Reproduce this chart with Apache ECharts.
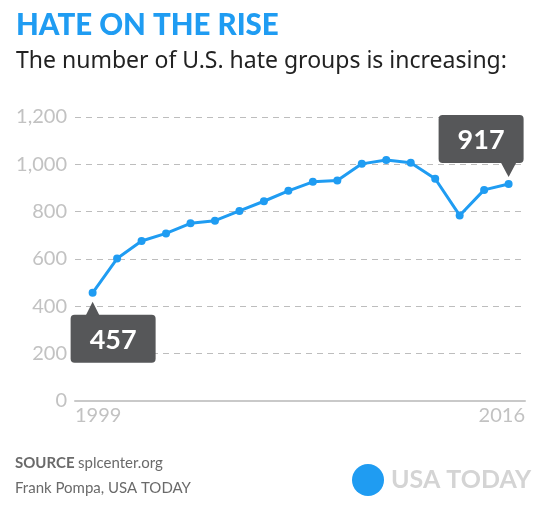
<!DOCTYPE html>
<html>
<head>
<meta charset="utf-8">
<script src="https://cdn.jsdelivr.net/npm/echarts@6/dist/echarts.min.js"></script>
<style>
html,body{margin:0;padding:0;background:#fff;}
#main{width:540px;height:511px;}
</style>
</head>
<body>
<div id="main"></div>
<script>
const years = [1999,2000,2001,2002,2003,2004,2005,2006,2007,2008,2009,2010,2011,2012,2013,2014,2015,2016];
const hateGroups = [457,602,676,708,751,762,803,844,888,926,932,1002,1018,1007,939,784,892,917];
const yTicks = [0,200,400,600,800,1000,1200];
const xTickLabels = ['1999','2016'];
const calloutYears = [1999, 2016];
const titleText = 'HATE ON THE RISE';
const subtitleText = 'The number of U.S. hate groups is increasing:';
const sourceLabel = 'SOURCE';
const sourceText = 'splcenter.org';
const creditText = 'Frank Pompa, USA TODAY';
const logoText = 'USA TODAY';

const BLUE = '#1f9cf2';
const FONT = 'Lato, "Noto Sans", sans-serif';
const xMin = 1998.28, xMax = 2016.67;

const chart = echarts.init(document.getElementById('main'), null, {renderer:'canvas'});
chart.setOption({
  animation:false,
  backgroundColor:'#fff',
  grid:{left:75, right:15, top:117, bottom:110, containLabel:false},
  xAxis:{
    type:'value', min:xMin, max:xMax, interval:100,
    axisLine:{show:true, lineStyle:{color:'#c9c9c9', width:2}},
    axisTick:{show:false},
    splitLine:{show:false},
    axisLabel:{
      show:true, margin:5, color:'#c2c2c2', fontFamily:FONT, fontSize:20,
      showMinLabel:true, showMaxLabel:true,
      alignMinLabel:'left', alignMaxLabel:'right',
      formatter:function(v){
        if (Math.abs(v - xMin) < 0.01) return xTickLabels[0];
        if (Math.abs(v - xMax) < 0.01) return xTickLabels[1];
        return '';
      }
    }
  },
  yAxis:{
    type:'value', min:yTicks[0], max:yTicks[yTicks.length-1], interval:200,
    axisLine:{show:false}, axisTick:{show:false},
    splitLine:{show:true, lineStyle:{color:'#bdbdbd', type:[6,5], width:1}},
    axisLabel:{margin:8, color:'#c2c2c2', fontFamily:FONT, fontSize:20,
      formatter:function(v){ return v.toLocaleString('en-US'); }}
  },
  series:[{
    type:'line',
    data: years.map((y,i)=>[y, hateGroups[i]]),
    lineStyle:{color:BLUE, width:3},
    itemStyle:{color:BLUE},
    symbol:'circle', symbolSize:8, showSymbol:true,
    z:3
  }],
  graphic:[]
});

const graphics = [];
graphics.push({type:'text', left:16, top:10, style:{text:titleText, fill:BLUE, font:'900 29.5px '+FONT}});
graphics.push({type:'text', left:16, top:50, style:{text:subtitleText, fill:'#222', font:'23px "Noto Sans", sans-serif'}});
graphics.push({type:'text', left:15, top:456, style:{text:sourceLabel, fill:'#6a6a6a', font:'bold 15px '+FONT}});
graphics.push({type:'text', left:78, top:456, style:{text:sourceText, fill:'#6a6a6a', font:'15px '+FONT}});
graphics.push({type:'text', left:15, top:481, style:{text:creditText, fill:'#6a6a6a', font:'15px '+FONT}});
graphics.push({type:'circle', shape:{cx:368, cy:480, r:16}, style:{fill:BLUE}});
graphics.push({type:'text', left:391, top:467, style:{text:logoText, fill:'#d4d4d4', font:'bold 25px '+FONT}});

calloutYears.forEach((yr, k)=>{
  const i = years.indexOf(yr);
  const p = chart.convertToPixel({seriesIndex:0}, [yr, hateGroups[i]]);
  const w = 85, h = 48;
  let bx, by, tri;
  if (k === 0) {
    bx = p[0] - 22; by = p[1] + 22;
    tri = [[p[0]-7, by+1],[p[0], p[1]+9],[p[0]+7, by+1]];
  } else {
    bx = p[0] + 15 - w; by = p[1] - 21 - h;
    tri = [[p[0]-8, by+h-1],[p[0], p[1]-7],[p[0]+8, by+h-1]];
  }
  graphics.push({type:'rect', shape:{x:bx, y:by, width:w, height:h, r:4}, style:{fill:'#565759'}, z:10});
  graphics.push({type:'polygon', shape:{points:tri}, style:{fill:'#565759'}, z:10});
  graphics.push({type:'text', x:bx+w/2, y:by+h/2+1, style:{text:String(hateGroups[i]), fill:'#fff', font:'bold 27px '+FONT, textAlign:'center', textVerticalAlign:'middle'}, z:11});
});
chart.setOption({graphic:graphics});
</script>
</body>
</html>
